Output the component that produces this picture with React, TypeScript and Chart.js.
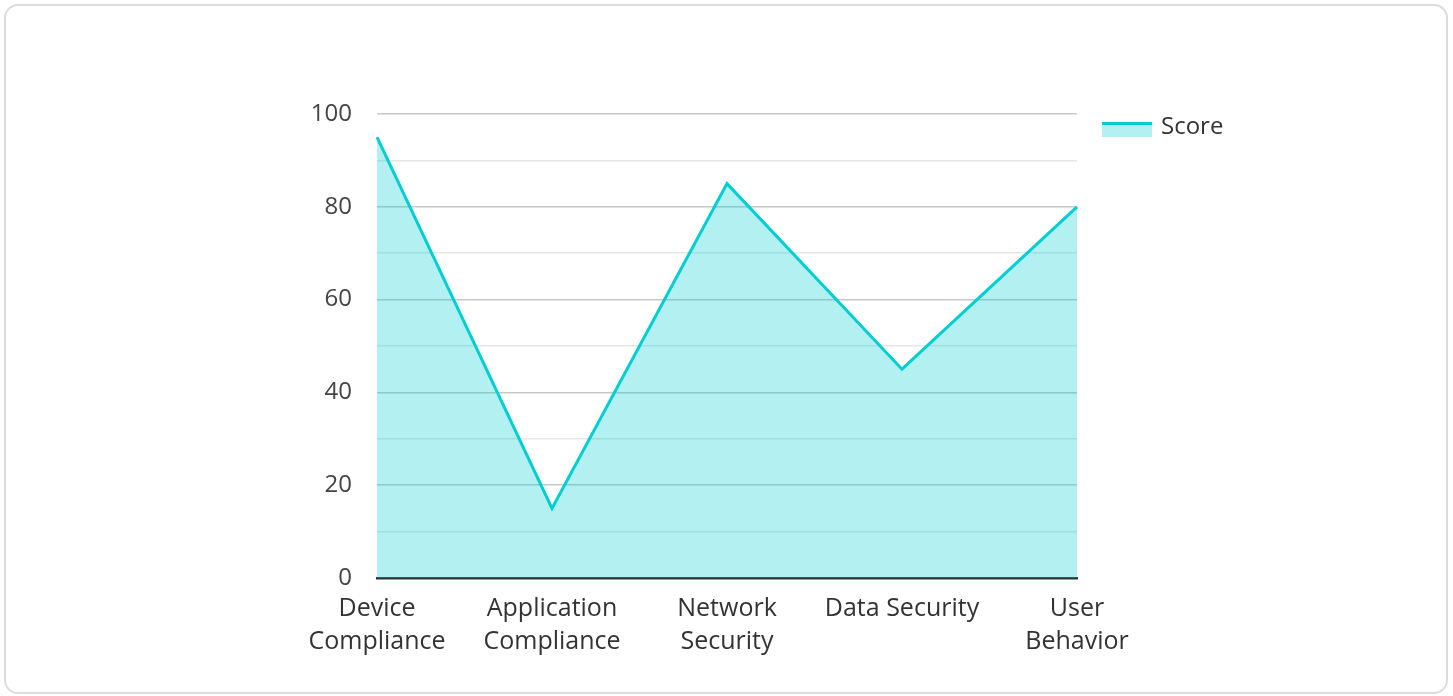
import React, { useEffect, useRef } from "react";
import { Chart, registerables } from "chart.js";

Chart.register(...registerables);

const categories: (string | string[])[] = [
  ["Device", "Compliance"],
  ["Application", "Compliance"],
  ["Network", "Security"],
  "Data Security",
  ["User", "Behavior"],
];
const scoreValues = [95, 15, 85, 45, 80];
const seriesName = "Score";

const LINE = "#00CED1";
const FILL = "rgba(0,206,209,0.3)";
const FONT = "'Open Sans', 'Noto Sans', sans-serif";

const legendPlugin = {
  id: "customLegend",
  afterDraw(chart: any) {
    const { ctx, chartArea } = chart;
    const x = chartArea.right + 25;
    const y = chartArea.top + 8;
    ctx.save();
    ctx.fillStyle = FILL;
    ctx.fillRect(x, y, 50, 15);
    ctx.fillStyle = LINE;
    ctx.fillRect(x, y, 50, 3);
    ctx.fillStyle = "#333";
    ctx.font = `24px ${FONT}`;
    ctx.textBaseline = "middle";
    ctx.textAlign = "left";
    ctx.fillText(seriesName, x + 59, y + 5);
    ctx.restore();
  },
};

export default function App() {
  const ref = useRef<HTMLCanvasElement | null>(null);
  useEffect(() => {
    if (!ref.current) return;
    const chart = new Chart(ref.current, {
      type: "line",
      data: {
        labels: categories,
        datasets: [
          {
            label: seriesName,
            data: scoreValues,
            borderColor: LINE,
            backgroundColor: FILL,
            borderWidth: 3,
            fill: "origin",
            tension: 0,
            pointRadius: 0,
            pointHoverRadius: 0,
          },
        ],
      },
      options: {
        animation: false,
        responsive: false,
        maintainAspectRatio: false,
        layout: { padding: { left: 300, right: 376, top: 114, bottom: 0 } },
        plugins: {
          legend: { display: false },
          tooltip: { enabled: false },
        },
        scales: {
          x: {
            offset: false,
            grid: { display: false, drawTicks: false },
            border: { display: true, color: "#333", width: 2.5 },
            ticks: {
              color: "#333",
              font: { family: FONT, size: 25, lineHeight: 1.3 },
              padding: 15,
              maxRotation: 0,
              autoSkip: false,
            },
            afterFit(scale: any) {
              scale.height = 696 - 578;
            },
          },
          y: {
            min: 0,
            max: 100,
            border: { display: false },
            grid: {
              drawTicks: false,
              color: (c: any) =>
                c.tick && c.tick.value % 20 === 0 ? "#c8c8c8" : "#e6e6e6",
              lineWidth: 1.5,
            },
            ticks: {
              stepSize: 10,
              color: "#444",
              font: { family: FONT, size: 24 },
              padding: 25,
              callback: (v: any) => (Number(v) % 20 === 0 ? String(v) : ""),
            },
            afterFit(scale: any) {
              scale.width = 77;
            },
          },
        },
      },
      plugins: [legendPlugin],
    });
    return () => chart.destroy();
  }, []);

  return (
    <div
      style={{
        position: "fixed",
        left: 0,
        top: 0,
        width: 1453,
        height: 696,
        background: "#fff",
      }}
    >
      <div
        style={{
          position: "absolute",
          left: 4,
          top: 4,
          width: 1444,
          height: 690,
          border: "2px solid #dcdcdc",
          borderRadius: 14,
          boxSizing: "border-box",
        }}
      />
      <canvas
        ref={ref}
        width={1453}
        height={696}
        style={{ position: "absolute", left: 0, top: 0, width: 1453, height: 696 }}
      />
    </div>
  );
}
